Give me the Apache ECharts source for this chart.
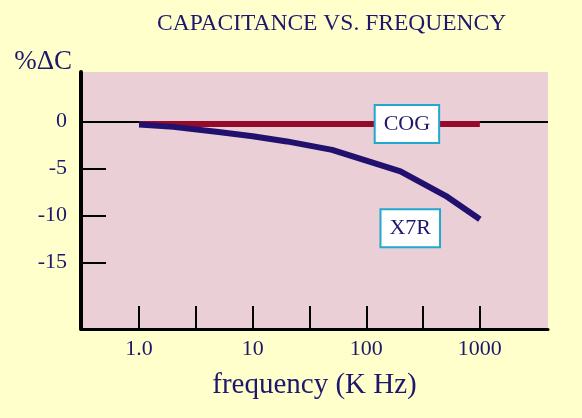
<!DOCTYPE html>
<html>
<head>
<meta charset="utf-8">
<script src="https://cdn.jsdelivr.net/npm/echarts@6/dist/echarts.min.js"></script>
<style>
  html, body { margin: 0; padding: 0; background: #FFFFCC; }
  #chart { width: 582px; height: 418px; }
</style>
</head>
<body>
<div id="chart"></div>
<script>
// ---- data (frequency in kHz, capacitance change in %) ----
const frequencies = [1, 2, 5, 10, 20, 50, 100, 200, 500, 1000];
const x7rValues   = [-0.3, -0.55, -1.1, -1.55, -2.1, -3.0, -4.15, -5.3, -7.9, -10.4];
const cogFreqs    = [1, 1000];
const cogValues   = [-0.25, -0.25];
const xTickFreqs  = [1, 3.162, 10, 31.62, 100, 316.2, 1000];
const xLabelFreqs = [1, 10, 100, 1000];
const xLabelTexts = ['1.0', '10', '100', '1000'];
const yTickValues = [-5, -10, -15];
const yLabelValues = [0, -5, -10, -15];
const cogNote = { freq: 228, value: -0.25, text: 'COG' };
const x7rNote = { freq: 244, value: -11.37, text: 'X7R' };

const navy = '#1E176B';
const font = 'Liberation Serif';
const lg = v => Math.log10(v);

const boxLabel = (text) => ({
  show: true, position: 'inside', formatter: text,
  color: navy, fontFamily: font, fontSize: 22,
  backgroundColor: '#FFFFFF', borderColor: '#22A8CE', borderWidth: 2,
  padding: [8, 8, 6, 8]
});

const chart = echarts.init(document.getElementById('chart'));
chart.setOption({
  backgroundColor: '#FFFFCC',
  animation: false,
  title: {
    text: 'CAPACITANCE VS. FREQUENCY',
    left: 157, top: 12, padding: 0,
    textStyle: { color: navy, fontFamily: font, fontSize: 23.5, fontWeight: 'normal' }
  },
  grid: {
    left: 81, right: 34, top: 72, bottom: 89,
    show: true, backgroundColor: '#EACFD6', borderWidth: 0
  },
  xAxis: {
    type: 'value',
    min: lg(0.308), max: lg(3981),
    name: 'frequency (K Hz)',
    nameLocation: 'middle', nameGap: 42,
    nameTextStyle: { color: navy, fontFamily: font, fontSize: 29 },
    axisLine: { show: true, onZero: false, lineStyle: { color: '#000', width: 3 } },
    axisTick: { show: true, inside: true, length: 23, lineStyle: { color: '#000', width: 2 },
                customValues: xTickFreqs.map(lg) },
    axisLabel: { show: true, margin: 9, color: navy, fontFamily: font, fontSize: 22,
                 customValues: xLabelFreqs.map(lg),
                 formatter: (v) => {
                   const i = xLabelFreqs.findIndex(f => Math.abs(lg(f) - v) < 1e-6);
                   return i >= 0 ? xLabelTexts[i] : '';
                 } },
    splitLine: { show: false }
  },
  yAxis: {
    type: 'value',
    min: -22.1, max: 5.3,
    name: '%\u0394C',
    nameLocation: 'end', nameGap: 10,
    nameTextStyle: { color: navy, fontFamily: font, fontSize: 27, align: 'right',
                     verticalAlign: 'middle', padding: [0, 9, 0, 0] },
    axisLine: { show: true, onZero: false, lineStyle: { color: '#000', width: 4 } },
    axisTick: { show: true, inside: true, length: 25, lineStyle: { color: '#000', width: 2 },
                customValues: yTickValues },
    axisLabel: { show: true, margin: 14, color: navy, fontFamily: font, fontSize: 22,
                 customValues: yLabelValues },
    splitLine: { show: false }
  },
  series: [
    {
      name: 'COG', type: 'line', showSymbol: false, z: 3,
      data: cogFreqs.map((f, i) => [lg(f), cogValues[i]]),
      lineStyle: { color: '#950A2A', width: 6 },
      markLine: {
        silent: true, symbol: 'none', z: 1,
        label: { show: false },
        lineStyle: { color: '#000', width: 2, type: 'solid' },
        data: [{ yAxis: 0 }]
      },
      markPoint: {
        symbol: 'rect', symbolSize: 2, itemStyle: { color: 'rgba(0,0,0,0)' }, z: 6,
        label: boxLabel(cogNote.text),
        data: [{ coord: [lg(cogNote.freq), cogNote.value] }]
      }
    },
    {
      name: 'X7R', type: 'line', showSymbol: false, z: 4,
      data: frequencies.map((f, i) => [lg(f), x7rValues[i]]),
      lineStyle: { color: '#22106E', width: 6 },
      markPoint: {
        symbol: 'rect', symbolSize: 2, itemStyle: { color: 'rgba(0,0,0,0)' }, z: 6,
        label: boxLabel(x7rNote.text),
        data: [{ coord: [lg(x7rNote.freq), x7rNote.value] }]
      }
    }
  ]
});
</script>
</body>
</html>
